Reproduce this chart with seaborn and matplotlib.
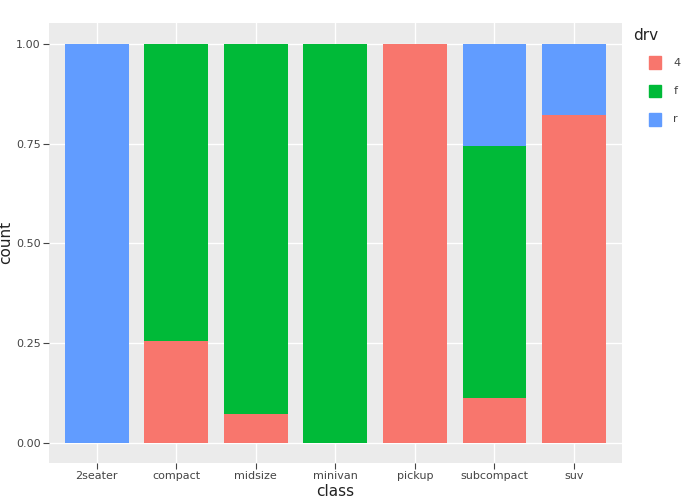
import numpy as np
import pandas as pd
import matplotlib
matplotlib.use("Agg")
import matplotlib.pyplot as plt
import seaborn as sns

classes = ["2seater", "compact", "midsize", "minivan", "pickup", "subcompact", "suv"]
cnt_4 = [0, 12, 3, 0, 33, 4, 51]
cnt_f = [0, 35, 38, 11, 0, 22, 0]
cnt_r = [5, 0, 0, 0, 0, 9, 11]

drv_colors = {"4": "#F8766D", "f": "#00BA38", "r": "#619CFF"}

tot = np.array(cnt_4) + np.array(cnt_f) + np.array(cnt_r)
p4 = np.array(cnt_4) / tot
pf = np.array(cnt_f) / tot
pr = np.array(cnt_r) / tot

fig = plt.figure(figsize=(7, 5), dpi=100)
ax = fig.add_axes([0.07, 0.075, 0.818, 0.88])
ax.set_facecolor("#EBEBEB")

bottom = np.zeros(len(classes))
for key, vals in [("4", p4), ("f", pf), ("r", pr)]:
    sns.barplot(x=classes, y=vals, bottom=bottom, color=drv_colors[key],
                width=0.8, saturation=1, ax=ax, zorder=3)
    bottom = bottom + vals

ax.set_ylim(-0.048, 1.053)
ax.set_xlim(-0.6, 6.6)
ax.set_yticks([0, 0.25, 0.5, 0.75, 1.0])
ax.set_yticklabels(["0.00", "0.25", "0.50", "0.75", "1.00"])
ax.grid(True, color="white", linewidth=1, zorder=0)
ax.set_axisbelow(True)
for s in ax.spines.values():
    s.set_visible(False)
ax.tick_params(colors="#444444", labelsize=8, length=4, color="#444444", pad=2)
ax.set_xlabel("class", fontsize=11, color="#222222", labelpad=2)
ax.set_ylabel("count", fontsize=11, color="#222222", labelpad=2)

fig.text(0.905, 0.92, "drv", fontsize=11, color="#222222")
for i, key in enumerate(["4", "f", "r"]):
    y = 0.863 - i * 0.057
    fig.patches.append(plt.Rectangle((0.927, y), 0.017, 0.024, transform=fig.transFigure,
                                     color=drv_colors[key], figure=fig))
    fig.text(0.962, y + 0.012, key, fontsize=8, va="center", color="#444444")

fig.savefig("out.png", dpi=100)
